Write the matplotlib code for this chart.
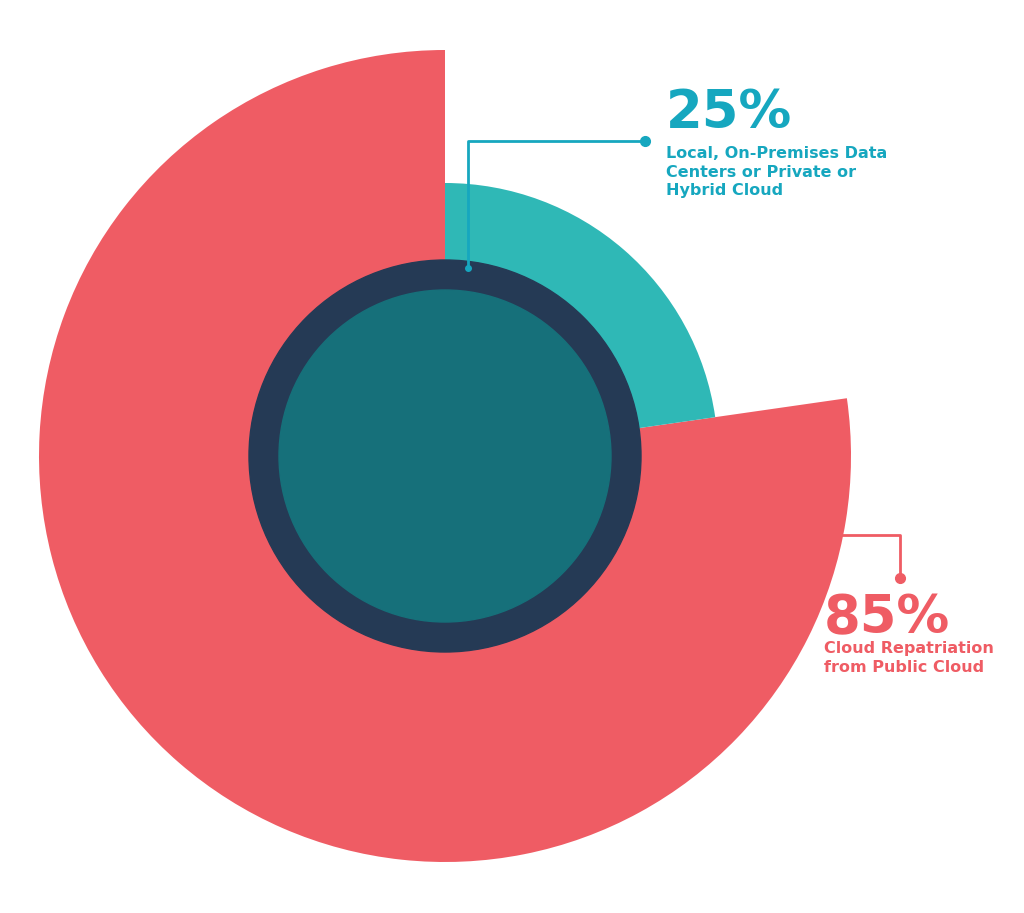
import matplotlib.pyplot as plt
from matplotlib.patches import Circle

labels = ["Local, On-Premises Data\nCenters or Private or\nHybrid Cloud", "Cloud Repatriation\nfrom Public Cloud"]
values = [25, 85]
pct_text = ["25%", "85%"]
colors = ["#2fb8b6", "#ef5c64"]

W, H = 1024, 913
fig = plt.figure(figsize=(W/100, H/100), dpi=100)
ax = fig.add_axes([0, 0, 1, 1])
ax.set_xlim(0, W); ax.set_ylim(0, H); ax.set_aspect('equal'); ax.axis('off')

cx, cy = 445, H - 456
# outer red wedge
w1, _ = ax.pie(values, radius=406, center=(cx, cy), startangle=90, counterclock=False,
               colors=["none", colors[1]], frame=True)
w2, _ = ax.pie(values, radius=273, center=(cx, cy), startangle=90, counterclock=False,
               colors=[colors[0], "none"], frame=True)
ax.set_xlim(0, W); ax.set_ylim(0, H); ax.axis('off')

ax.add_patch(Circle((cx, cy), 196, color="#253a55", zorder=3))
ax.add_patch(Circle((cx, cy), 166, color="#16707a", zorder=4))

# teal annotation
tc = "#16a7bf"
ax.plot([645, 468, 468], [H-141, H-141, H-268], color=tc, lw=2, zorder=5)
ax.plot([645], [H-141], 'o', color=tc, ms=7, zorder=6)
ax.plot([468], [H-268], 'o', color=tc, ms=4, zorder=6)
ax.text(666, H-113, pct_text[0], color=tc, fontsize=38, fontweight='bold', va='center', ha='left')
ax.text(666, H-146, labels[0], color=tc, fontsize=11.5, fontweight='bold', va='top', ha='left', linespacing=1.3)

# red annotation
rc = "#ef5c64"
ax.plot([840, 900, 900], [H-535, H-535, H-578], color=rc, lw=2, zorder=5)
ax.plot([900], [H-578], 'o', color=rc, ms=7, zorder=6)
ax.text(824, H-618, pct_text[1], color=rc, fontsize=38, fontweight='bold', va='center', ha='left')
ax.text(824, H-641, labels[1], color=rc, fontsize=11.5, fontweight='bold', va='top', ha='left', linespacing=1.3)

fig.savefig("out.png", dpi=100, facecolor="white")
